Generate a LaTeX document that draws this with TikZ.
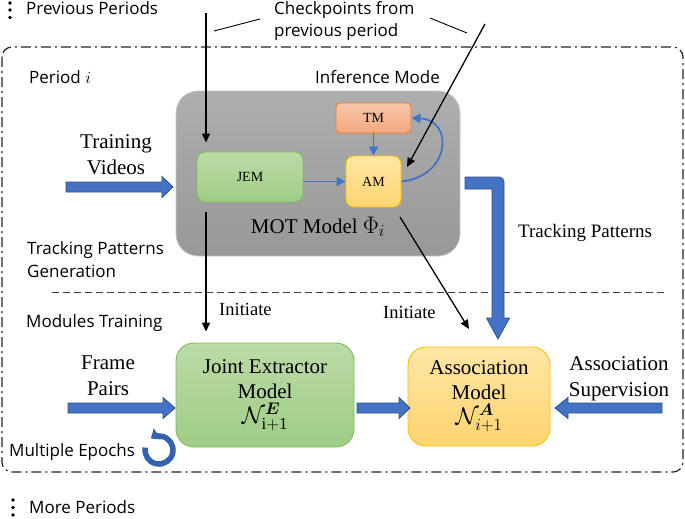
\RequirePackage{fix-cm}
\documentclass[tikz,border=0pt]{standalone}
\usepackage{amsmath}
\usepackage{fontspec}
\setmainfont{Liberation Serif}
\newfontfamily\labsans{Open Sans}
\usetikzlibrary{arrows.meta,calc}
\definecolor{mblue}{RGB}{68,114,196}
\definecolor{mbluedk}{RGB}{47,82,143}
\definecolor{ringblue}{RGB}{52,96,176}
\definecolor{grayT}{RGB}{174,174,174}
\definecolor{grayB}{RGB}{152,152,152}
\definecolor{grayE}{RGB}{200,200,200}
\definecolor{grnT}{RGB}{186,219,166}
\definecolor{grnB}{RGB}{160,204,134}
\definecolor{grnE}{RGB}{128,186,92}
\definecolor{orT}{RGB}{248,198,168}
\definecolor{orB}{RGB}{243,168,128}
\definecolor{orE}{RGB}{237,125,49}
\definecolor{ylT}{RGB}{255,230,165}
\definecolor{ylB}{RGB}{255,212,112}
\definecolor{ylE}{RGB}{255,192,0}
\newcommand\fatR[4]{%
  \filldraw[fatarrow] (#1,#3-5) -- (#2-#4,#3-5) -- (#2-#4,#3-10.5) -- (#2,#3) -- (#2-#4,#3+10.5) -- (#2-#4,#3+5) -- (#1,#3+5) -- cycle;}
\newcommand\fatL[4]{%
  \filldraw[fatarrow] (#1,#3-5) -- (#2+#4,#3-5) -- (#2+#4,#3-10.5) -- (#2,#3) -- (#2+#4,#3+10.5) -- (#2+#4,#3+5) -- (#1,#3+5) -- cycle;}
\begin{document}
\begin{tikzpicture}[x=1pt,y=-1pt,
  sanslab/.style={font=\labsans\fontsize{17}{20}\selectfont,inner sep=0pt},
  serlab/.style={font=\fontsize{21}{26}\selectfont,inner sep=0pt,align=center},
  smallbox/.style={rectangle,inner sep=0pt,font=\fontsize{14}{16}\selectfont,line width=0.9pt},
  bigbox/.style={rectangle,rounded corners=18pt,inner sep=0pt,align=center,font=\fontsize{21}{25}\selectfont,line width=0.9pt},
  blk/.style={draw=black,line width=1.3pt,-{Triangle[length=9pt,width=8pt]}},
  thinblue/.style={draw=mblue,line width=1.8pt,-{Triangle[length=9pt,width=9pt]}},
  fatarrow/.style={fill=mblue,draw=mbluedk,line width=0.8pt},
  dotc/.style={circle,fill=black,inner sep=0pt,minimum size=3.6pt}
]
\useasboundingbox (0,0) rectangle (685,519);
\fill[white] (0,0) rectangle (685,519);

% period frame
\draw[line width=1.2pt,dash pattern=on 10pt off 4pt on 2pt off 4pt,rounded corners=10pt,black!85] (2,47) rectangle (683,472);

% dots
\node[dotc] (t1) at (10,3) {};
\node[dotc] (t2) at (10,10) {};
\node[dotc] (t3) at (10,17.5) {};
\node[dotc] (b1) at (13,500) {};
\node[dotc] (b2) at (13,507.5) {};
\node[dotc] (b3) at (13,515) {};

% sans labels
\node[sanslab,anchor=base west] (prev) at (26,15) {Previous Periods};
\node[sanslab,anchor=west,align=left,font=\labsans\fontsize{17}{22}\selectfont] (ckp) at (274,21) {Checkpoints from\\previous period};
\node[sanslab,anchor=base west] (per) at (29,84) {Period $i$};
\node[sanslab,anchor=base west] (inf) at (315,84) {Inference Mode};
\node[sanslab,anchor=west,align=left,font=\labsans\fontsize{17}{23}\selectfont] (tpg) at (27,259.5) {Tracking Patterns\\Generation};
\node[sanslab,anchor=base west] (modt) at (26,327) {Modules Training};
\node[sanslab,anchor=base west] (mep) at (9,456) {Multiple Epochs};
\node[sanslab,anchor=base west] (more) at (29,513) {More Periods};

% MOT model
\node[rectangle,rounded corners=22pt,minimum width=284pt,minimum height=165pt,top color=grayT,bottom color=grayB,draw=grayE,line width=0.8pt] (mot) at (318,173.5) {};
\node[serlab,anchor=base] (motlab) at (318,233) {MOT Model {\fontsize{24}{26}\selectfont$\Phi_i$}};
\node[smallbox,rounded corners=8pt,minimum width=106pt,minimum height=50pt,top color=grnT,bottom color=grnB,draw=grnE] (jem) at (250,177) {JEM};
\node[smallbox,rounded corners=4pt,minimum width=75pt,minimum height=30pt,top color=orT,bottom color=orB,draw=orE] (tm) at (373.5,118) {TM};
\node[smallbox,rounded corners=8pt,minimum width=55pt,minimum height=51pt,top color=ylT,bottom color=ylB,draw=ylE] (am) at (373.5,181.5) {AM};

% training boxes
\node[bigbox,minimum width=178pt,minimum height=104pt,top color=grnT,bottom color=grnB,draw=grnE] (jem2) at (265,395) {Joint Extractor\\Model\\{\fontsize{24}{25}\selectfont$\mathcal{N}^{\boldsymbol{E}}_{\mathrm{i+1}}$}};
\node[bigbox,minimum width=142pt,minimum height=99pt,top color=ylT,bottom color=ylB,draw=ylE] (asm) at (479,396.5) {Association\\Model\\{\fontsize{24}{25}\selectfont$\mathcal{N}^{\boldsymbol{A}}_{i+1}$}};

% serif labels
\node[serlab] (tv) at (116,155) {Training\\Videos};
\node[serlab] (fp) at (108,376) {Frame\\Pairs};
\node[serlab] (as) at (619,378.3) {Association\\Supervision};
\node[serlab,anchor=base west,font=\fontsize{19}{23}\selectfont] (tpr) at (518,237) {Tracking Patterns};
\node[serlab,anchor=base west,font=\fontsize{18.5}{22}\selectfont] (ini1) at (219,315) {Initiate};
\node[serlab,anchor=base west,font=\fontsize{18.5}{22}\selectfont] (ini2) at (383,318) {Initiate};

% dashed separator
\draw[dash pattern=on 7pt off 4pt,line width=1pt,black!75] (52,292) -- (665,292);

% thin blue arrows
\draw[thinblue] (jem.east |- am.west) -- (am.west);
\draw[thinblue] (tm.south) -- (am.north);
\draw[thinblue] (am.east) .. controls ($(am.east)+(49,-5)$) and ($(tm.east)+(43,2)$) .. (tm.east);

% black arrows
\coordinate (ck1) at (206,13);
\coordinate (ck2) at (485,24);
\coordinate (ck2e) at (407,167);
\coordinate (i2s) at (400,217);
\coordinate (i2e) at (469,329);
\draw[blk,shorten >=9pt] (ck1) -- (ck1 |- jem.north);
\draw[blk] (ck2) -- (ck2e);
\draw[blk,shorten <=10pt,shorten >=11pt] (ck1 |- jem.south) -- (ck1 |- jem2.north);
\draw[blk] (i2s) -- (i2e);

% callout lines
\coordinate (c1a) at (214,31);
\coordinate (c1b) at (260,19);
\coordinate (c2a) at (430,18);
\coordinate (c2b) at (467,33);
\draw[line width=0.9pt] (c1a) -- (c1b);
\draw[line width=0.9pt] (c2a) -- (c2b);

% fat arrows
\fatR{66}{173}{187}{11}
\fatR{68}{175}{408}{12}
\fatR{357}{410}{408}{11}
\fatL{662}{555}{408}{13}
\filldraw[fatarrow] (465,177) -- (499,177) .. controls (502,177) and (504,179) .. (504,182) -- (504,318) -- (509.5,318) -- (498,339) -- (486.5,318) -- (492,318) -- (492,189) -- (465,189) -- cycle;

% multiple epochs ring
\draw[ringblue,line width=5.5pt,-{Triangle[length=8pt,width=13pt]}] ($(159,450)+(-170:14)$) arc[start angle=-170,end angle=-485,radius=14];
\end{tikzpicture}
\end{document}
